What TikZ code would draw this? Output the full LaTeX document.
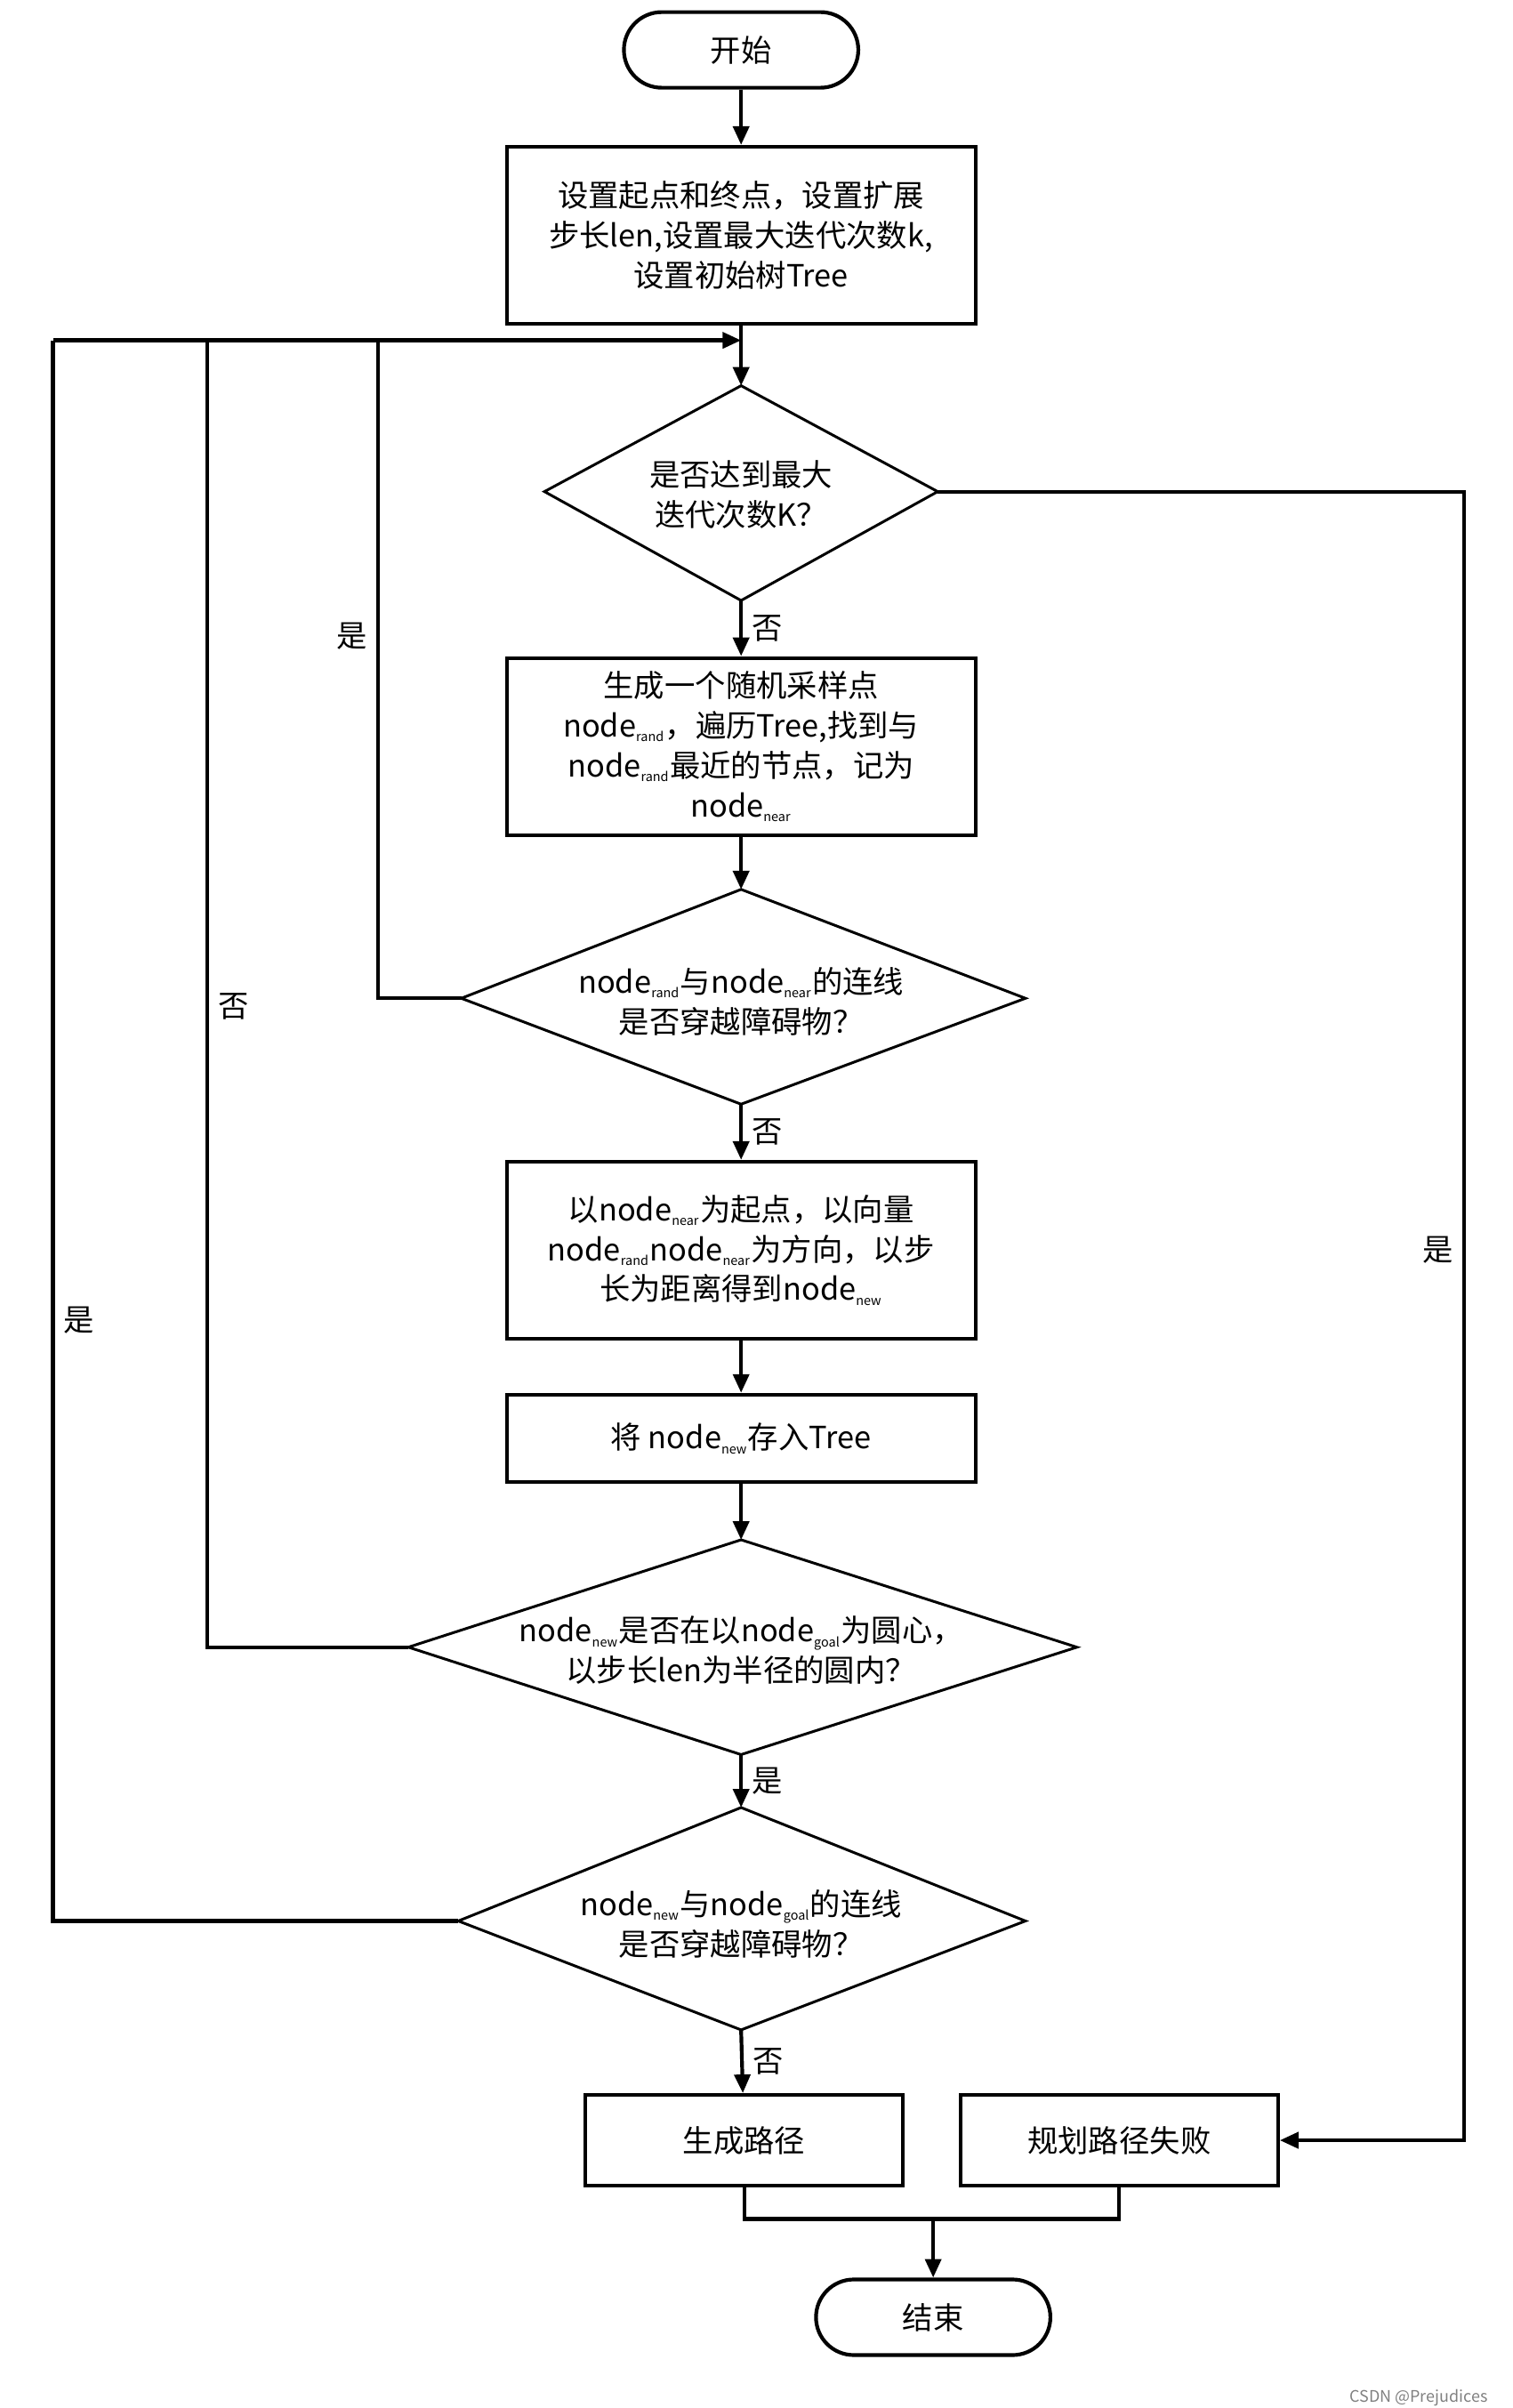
\documentclass[tikz,border=0pt]{standalone}
\usepackage{fontspec}
\setmainfont{Noto Sans CJK SC}
\usetikzlibrary{shapes.geometric,arrows.meta}
\newcommand{\nd}[1]{node\textsubscript{\scalebox{0.6}{#1}}}
\begin{document}
\begin{tikzpicture}[x=0.02cm,y=-0.02cm,
  every node/.style={font=\fontsize{11.5}{15}\selectfont},
  box/.style={draw,line width=1.4pt,minimum width=6.2cm,align=center,inner sep=0pt},
  term/.style={draw,line width=1.4pt,rounded corners=0.5cm,minimum width=3.1cm,minimum height=1cm},
  dia/.style={draw,line width=1pt,diamond,aspect=1,inner sep=0pt,align=center},
  ln/.style={line width=1.4pt},
  ar/.style={ln,-{Triangle[length=7pt,width=6pt]}},
  lab/.style={font=\fontsize{11.5}{14}\selectfont}]
\useasboundingbox (0,0) rectangle (1000,1592);
\node[term] (start) at (490,33) {开始};
\node[box,minimum height=2.34cm] (b1) at (490,155.5) {设置起点和终点，设置扩展\\步长len,设置最大迭代次数k,\\设置初始树Tree};
\coordinate (j) at (490,225);
\draw[dia,draw=none] (490,325) coordinate (d1c);
\draw[line width=1pt] (490,255) coordinate (d1t) -- (620,325) coordinate (d1r) -- (490,397) coordinate (d1b) -- (360,325) -- cycle;
\node[align=center] (d1) at (490,327) {是否达到最大\\迭代次数K？};
\node[box,minimum height=2.34cm] (b2) at (490,493.5) {生成一个随机采样点\\\nd{rand}，遍历Tree,找到与\\\nd{rand}最近的节点，记为\\\nd{near}};
\draw[line width=1pt] (490,588) coordinate (d2t) -- (678,660) -- (490,730) coordinate (d2b) -- (305,660) coordinate (d2l) -- cycle;
\node[align=center] (d2) at (490,662) {\nd{rand}与\nd{near}的连线\\是否穿越障碍物？};
\node[box,minimum height=2.34cm] (b3) at (490,826.5) {以\nd{near}为起点，以向量\\\nd{rand}\nd{near}为方向，以步\\长为距离得到\nd{new}};
\node[box,minimum height=1.16cm] (b4) at (490,951) {将 \nd{new}存入Tree};
\draw[line width=1pt] (490,1018) coordinate (d3t) -- (712,1089) -- (490,1160) coordinate (d3b) -- (270,1089) coordinate (d3l) -- cycle;
\node[align=center] (d3) at (490,1091) {\nd{new}是否在以\nd{goal}为圆心，\\以步长len为半径的圆内？};
\draw[line width=1pt] (490,1195) coordinate (d4t) -- (678,1270) -- (490,1342) coordinate (d4b) -- (303,1270) coordinate (d4l) -- cycle;
\node[align=center] (d4) at (490,1272) {\nd{new}与\nd{goal}的连线\\是否穿越障碍物？};
\node[box,minimum width=4.2cm,minimum height=1.2cm] (b5) at (492,1415) {生成路径};
\node[box,minimum width=4.2cm,minimum height=1.2cm] (b6) at (740,1415) {规划路径失败};
\node[term] (end) at (617,1532) {结束};
\coordinate (m) at (617,1467);
\draw[ar] (start) -- (b1);
\draw[ln] (b1) -- (j);
\draw[ar] (j) -- (d1t);
\draw[ar] (d1b) -- node[lab,right,pos=0.5]{否} (b2);
\draw[ar] (b2) -- (d2t);
\draw[ar] (d2b) -- node[lab,right]{否} (b3);
\draw[ar] (b3) -- (b4);
\draw[ar] (b4) -- (d3t);
\draw[ar] (d3b) -- node[lab,right]{是} (d4t);
\draw[ar] (d4b) -- node[lab,right]{否} (b5);
\draw[ln] (d2l) -- (250,660) -- node[lab,left,pos=0.55]{是} (250,225);
\draw[ln] (d3l) -- (137,1089) -- node[lab,right,pos=0.49]{否} (137,225);
\draw[ln] (d4l) -- (35,1270) -- node[lab,right,pos=0.38]{是} (35,225);
\draw[ar] (35,225) -- (j);
\draw[ar] (d1r) -- (968,325) -- node[lab,left,pos=0.46]{是} (968,1415) -- (b6);
\draw[ln] (b5.south) -- (492,1467) -- (740,1467) -- (b6.south);
\draw[ar] (m) -- (end);
\node[font=\fontsize{6}{7}\selectfont,text=gray] (wm) at (938,1585) {CSDN @Prejudices};
\end{tikzpicture}
\end{document}
